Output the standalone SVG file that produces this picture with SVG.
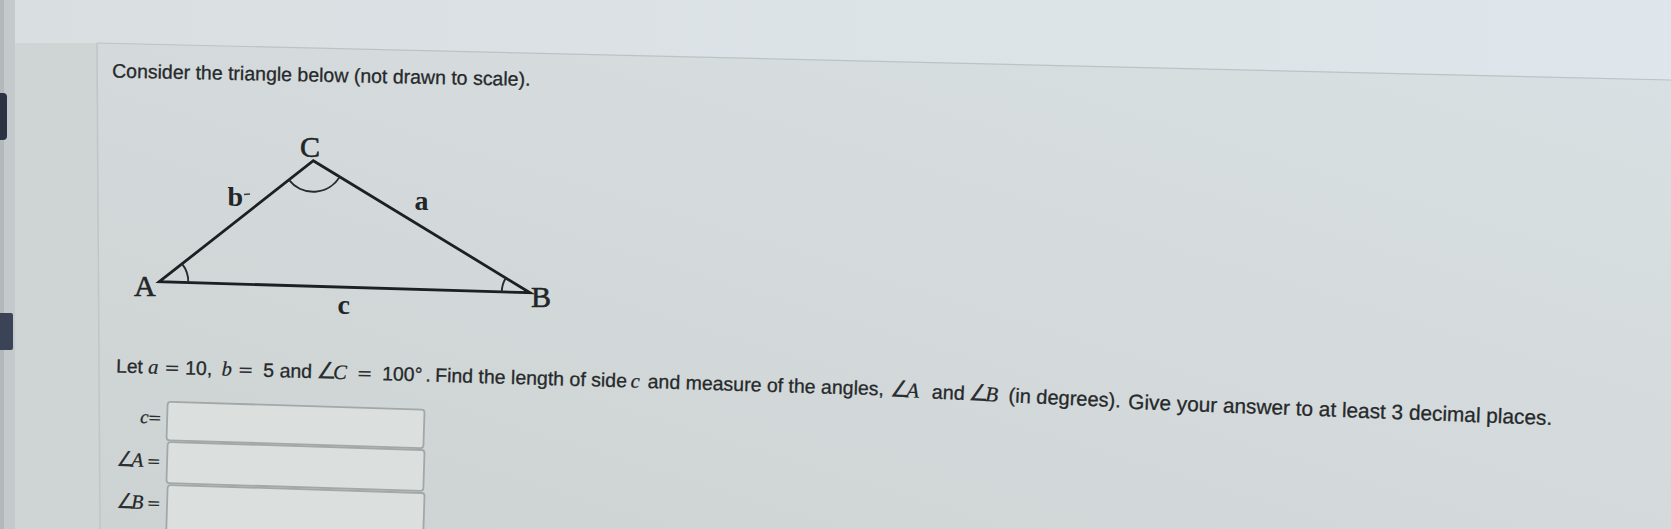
<svg xmlns="http://www.w3.org/2000/svg" width="1671" height="529" viewBox="0 0 1671 529">
  <defs>
    <linearGradient id="panelGrad" x1="0" y1="1" x2="1" y2="0">
      <stop offset="0" stop-color="#cdd3d2"/>
      <stop offset="0.5" stop-color="#d4dadb"/>
      <stop offset="1" stop-color="#d9e0e3"/>
    </linearGradient>
    <linearGradient id="topGrad" x1="0" y1="0" x2="1" y2="0">
      <stop offset="0" stop-color="#d9dfe1"/>
      <stop offset="1" stop-color="#dfe6eb"/>
    </linearGradient>
  </defs>
  <style>
    .sans { font-family: "Liberation Sans", Arial, sans-serif; fill: #26292b; stroke: #26292b; stroke-width: 0.3px; }
    .mi { font-family: "Liberation Serif", "DejaVu Serif", serif; font-style: italic; fill: #232729; stroke: #232729; stroke-width: 0.25px; }
    .sym { font-family: "DejaVu Serif", "Liberation Serif", serif; fill: #2b2f31; }
    .ang { font-family: "DejaVu Sans", "DejaVu Serif", sans-serif; fill: #2b2f31; }
    .edge { stroke: #1c2022; stroke-width: 2.8; fill: none; stroke-linecap: round; }
    .arc { stroke: #272b2d; stroke-width: 1.9; fill: none; }
    .box { fill: #dbe0df; stroke: #a2a8a8; stroke-width: 1.8; }
    .lbl { font-family: "Liberation Serif", "DejaVu Serif", serif; font-size: 30px; fill: #222628; stroke: #222628; stroke-width: 0.6px; }
    .side { font-family: "Liberation Serif", "DejaVu Serif", serif; font-size: 28px; font-weight: bold; fill: #222628; }
  </style>

  <g id="background">
    <rect x="0" y="0" width="1671" height="529" fill="#cfd5d5"/>
    <polygon points="15,0 1671,0 1671,80 97,43 15,43" fill="url(#topGrad)"/>
    <polygon points="97,43 1671,80 1671,529 100,529" fill="url(#panelGrad)"/>
    <line x1="97" y1="43" x2="1671" y2="80" stroke="#bcc3c6" stroke-width="1.2"/>
    <line x1="97" y1="43" x2="100" y2="529" stroke="#c0c6c6" stroke-width="1.5"/>
    <rect x="0" y="0" width="15" height="529" fill="#c4cacb"/>
    <rect x="0" y="0" width="4" height="529" fill="#b3b9ba"/>
    <rect x="-4" y="93" width="11" height="47" rx="4" fill="#2c3444"/>
    <rect x="-4" y="313" width="17" height="37" rx="2" fill="#3a4456"/>
  </g>

  <g id="title">
    <text class="sans" x="112" y="77.5" font-size="19.5" transform="rotate(1.15 112 77.5)">Consider the triangle below (not drawn to scale).</text>
  </g>

  <g id="triangle">
    <polygon class="edge" points="159.3,281.7 313.3,160.7 530,292.7" stroke-linejoin="miter"/>
    <path class="arc" d="M288.9,179.9 A31,31 0 0 0 339.8,176.8"/>
    <path class="arc" d="M182.1,263.8 A29,29 0 0 1 188.3,282.6"/>
    <path class="arc" d="M505.8,278 A28.3,28.3 0 0 0 501.7,291.9"/>
    <text class="lbl" x="300" y="156.5">C</text>
    <text class="lbl" x="134" y="295.5">A</text>
    <text class="lbl" x="531" y="307">B</text>
    <text class="side" x="414.5" y="210">a</text>
    <text class="side" x="227.5" y="205.5">b</text>
    <line x1="244" y1="194.5" x2="250" y2="194" stroke="#3a3e40" stroke-width="1.4"/>
    <text class="side" x="337.5" y="314">c</text>
  </g>

  <g id="question">
    <g transform="rotate(1.65 116 372.5)">
      <text class="sans" x="116" y="372.5" font-size="19.2">Let</text>
      <text class="mi" x="148" y="372.5" font-size="20.5">a</text>
      <text class="sym" x="164" y="372.5" font-size="19">=</text>
      <text class="sans" x="185" y="372.5" font-size="19.5">10,</text>
      <text class="mi" x="221.5" y="372.5" font-size="20.5">b</text>
      <text class="sym" x="237.5" y="372.5" font-size="19">=</text>
      <text class="sans" x="263" y="372.5" font-size="19.5">5</text>
      <text class="sans" x="279.5" y="372.5" font-size="19.5">and</text>
      <text class="ang" x="316" y="372.5" font-size="23">∠</text>
      <text class="mi" x="333" y="372.5" font-size="20.5">C</text>
      <text class="sym" x="356.5" y="372.5" font-size="19">=</text>
      <text class="sans" x="382" y="372.5" font-size="19.5">100°</text>
      <text class="sans" x="425.5" y="372.5" font-size="19.5">.</text>
    </g>
    <text class="sans" x="435" y="381.7" font-size="19.5" transform="rotate(1.7 435 381.7)">Find the length of side</text>
    <text class="mi" x="630.5" y="387.5" font-size="20.5" transform="rotate(1.7 630.5 387.5)">c</text>
    <text class="sans" x="647.5" y="388" font-size="19.5" transform="rotate(1.8 647.5 388)">and measure of the angles,</text>
    <g transform="rotate(2.7 891.5 396.6)">
      <text class="ang" x="889.5" y="396.6" font-size="23">∠</text>
      <text class="mi" x="906" y="396.6" font-size="21">A</text>
      <text class="sans" x="931.5" y="396.6" font-size="19.8">and</text>
      <text class="ang" x="968" y="396.6" font-size="23">∠</text>
      <text class="mi" x="985" y="396.6" font-size="21">B</text>
      <text class="sans" x="1008.5" y="396.6" font-size="20">(in degrees).</text>
    </g>
    <text class="sans" x="1128" y="408.8" font-size="20.8" transform="rotate(2.2 1128 408.8)">Give your answer to at least 3 decimal places.</text>
  </g>

  <g id="answers">
    <rect class="box" x="167.7" y="401.7" width="257" height="38.5" rx="3" transform="rotate(1.8 167.7 401.7)"/>
    <rect class="box" x="167.7" y="442" width="257" height="41" rx="3" transform="rotate(1.8 167.7 442)"/>
    <rect class="box" x="167.7" y="485" width="257" height="60" rx="3" transform="rotate(1.8 167.7 485)"/>
    <g transform="rotate(1.5 140 423)">
      <text class="mi" x="140" y="423" font-size="19">c</text>
      <text class="sym" x="147.5" y="423" font-size="17">=</text>
    </g>
    <g transform="rotate(1.5 116 466)">
      <text class="ang" x="116" y="466" font-size="21">∠</text>
      <text class="mi" x="131" y="466" font-size="20">A</text>
      <text class="sym" x="146.5" y="466" font-size="17">=</text>
    </g>
    <g transform="rotate(1.5 116 508)">
      <text class="ang" x="116" y="508" font-size="21">∠</text>
      <text class="mi" x="131" y="508" font-size="20">B</text>
      <text class="sym" x="146.5" y="508" font-size="17">=</text>
    </g>
  </g>
</svg>
